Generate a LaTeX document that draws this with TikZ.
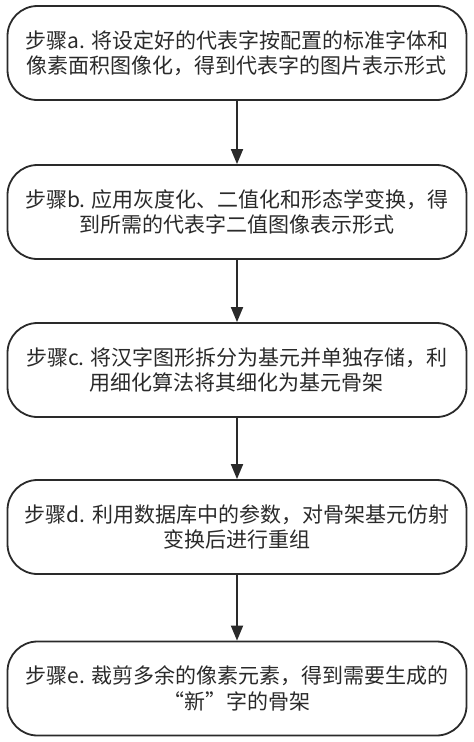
\documentclass[tikz,border=0pt]{standalone}
\usepackage{fontspec}
\setmainfont{Noto Sans CJK SC}
\usetikzlibrary{arrows.meta}
\definecolor{ink}{HTML}{2A2A2A}
\begin{document}
\begin{tikzpicture}[x=1pt,y=-1pt,
  stepbox/.style={draw=ink, line width=1.8pt, rounded corners=30pt, minimum width=459pt, minimum height=94pt, align=center, text=ink, inner sep=0pt, font=\fontsize{21pt}{25.5pt}\selectfont},
  flow/.style={draw=ink, line width=1.8pt, -{Triangle[length=15pt,width=12pt]}}]
\useasboundingbox (0,0) rectangle (474,742);
\node[stepbox] (a) at (237,53) {步骤a. 将设定好的代表字按配置的标准字体和\\像素面积图像化，得到代表字的图片表示形式};
\node[stepbox] (b) at (237,212) {步骤b. 应用灰度化、二值化和形态学变换，得\\到所需的代表字二值图像表示形式};
\node[stepbox] (c) at (237,370) {步骤c. 将汉字图形拆分为基元并单独存储，利\\用细化算法将其细化为基元骨架};
\node[stepbox] (d) at (237,527) {步骤d. 利用数据库中的参数，对骨架基元仿射\\变换后进行重组};
\node[stepbox] (e) at (237,688.5) {步骤e. 裁剪多余的像素元素，得到需要生成的\\“新”字的骨架};
\draw[flow] (a) -- (b);
\draw[flow] (b) -- (c);
\draw[flow] (c) -- (d);
\draw[flow] (d) -- (e);
\end{tikzpicture}
\end{document}
